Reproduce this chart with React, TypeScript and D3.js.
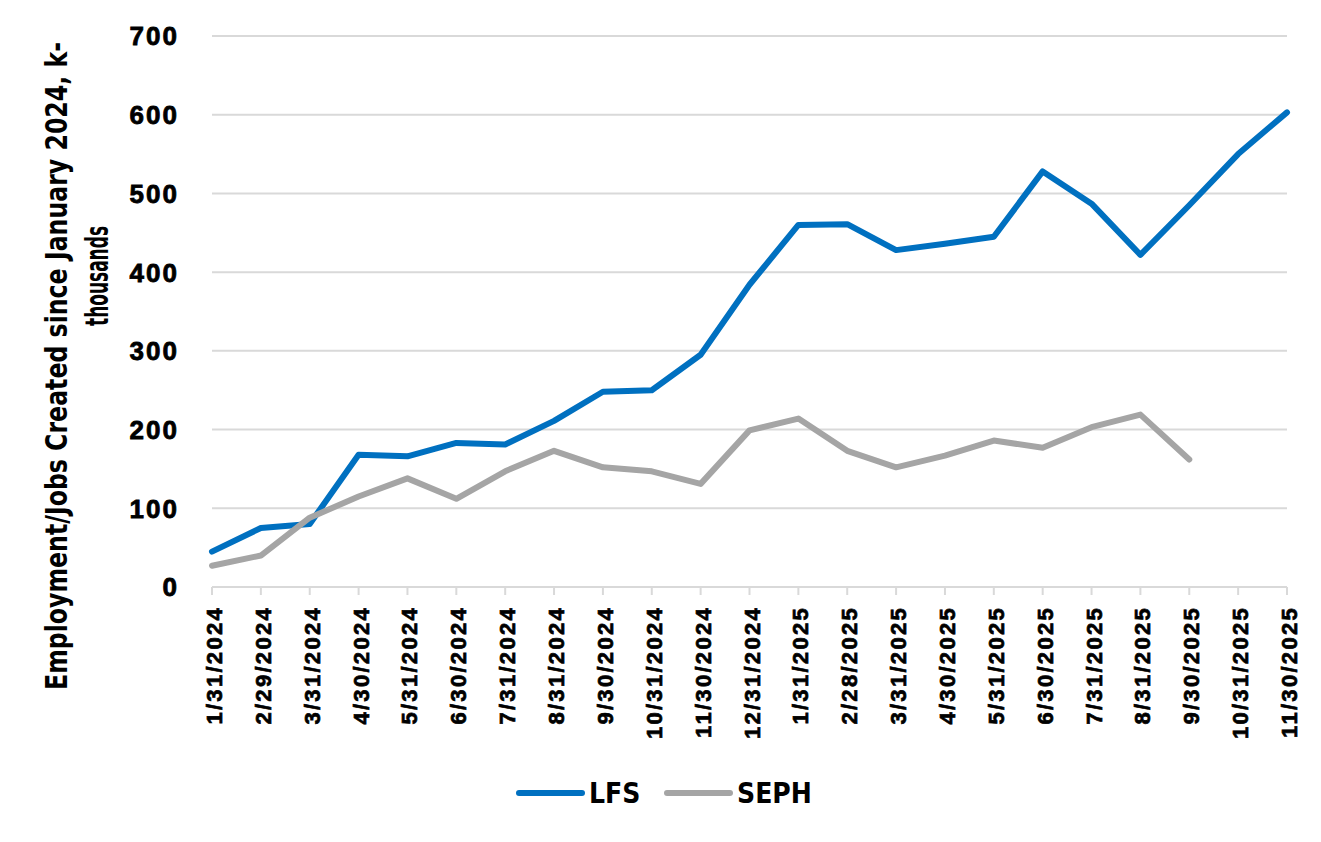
import React from "react";
import * as d3 from "d3";

const dates = [
  "1/31/2024", "2/29/2024", "3/31/2024", "4/30/2024", "5/31/2024", "6/30/2024",
  "7/31/2024", "8/31/2024", "9/30/2024", "10/31/2024", "11/30/2024", "12/31/2024",
  "1/31/2025", "2/28/2025", "3/31/2025", "4/30/2025", "5/31/2025", "6/30/2025",
  "7/31/2025", "8/31/2025", "9/30/2025", "10/31/2025", "11/30/2025",
];
const lfs: (number | null)[] = [
  45, 75, 80, 168, 166, 183, 181, 211, 248, 250, 295, 384,
  460, 461, 428, 436, 445, 528, 487, 422, 485, 550, 603,
];
const seph: (number | null)[] = [
  27, 40, 88, 115, 138, 112, 147, 173, 152, 147, 131, 199,
  214, 173, 152, 167, 186, 177, 203, 219, 162, null, null,
];
const yTicks = [0, 100, 200, 300, 400, 500, 600, 700];
const seriesNames = ["LFS", "SEPH"];
const seriesColors = ["#0070C0", "#A5A5A5"];

const W = 1321, H = 842;
const left = 212, right = 1287, top = 36, bottom = 587;

export default function App() {
  const x = d3.scalePoint<string>().domain(dates).range([left, right]);
  const y = d3.scaleLinear().domain([0, 700]).range([bottom, top]);
  const line = d3
    .line<number | null>()
    .defined((d) => d != null)
    .x((_, i) => x(dates[i]) as number)
    .y((d) => y(d as number));
  const series = [lfs, seph];
  const tickFont = "'Liberation Sans', Arial, sans-serif";
  const narrow = "'Liberation Sans Narrow', 'DejaVu Sans Condensed', 'Roboto', sans-serif";
  return (
    <div style={{ position: "fixed", left: 0, top: 0 }}>
      <svg width={W} height={H} style={{ display: "block", background: "#fff" }}>
        {yTicks.filter((t) => t > 0).map((t) => (
          <line key={t} x1={left} x2={right} y1={y(t)} y2={y(t)} stroke="#D9D9D9" strokeWidth={2} />
        ))}
        <line x1={left} x2={right} y1={y(0)} y2={y(0)} stroke="#D9D9D9" strokeWidth={2} />
        {dates.map((d) => (
          <line key={d} x1={x(d)} x2={x(d)} y1={y(0)} y2={y(0) + 8} stroke="#D9D9D9" strokeWidth={2} />
        ))}
        {yTicks.map((t) => (
          <text
            key={t}
            x={179}
            y={y(t)}
            dy="0.36em"
            textAnchor="end"
            fontFamily={tickFont}
            fontWeight={700}
            fontSize={26}
            letterSpacing={2}
            stroke="#000"
            strokeWidth={0.8}
            fill="#000"
          >
            {t}
          </text>
        ))}
        {dates.map((d) => (
          <text
            key={d}
            transform={`translate(${(x(d) as number) + 10},${y(0) + 19}) rotate(-90)`}
            textAnchor="end"
            fontFamily={tickFont}
            fontWeight={700}
            fontSize={22}
            letterSpacing={2.3}
            stroke="#000"
            strokeWidth={0.7}
            fill="#000"
          >
            {d}
          </text>
        ))}
        <text
          transform={`translate(67,366) rotate(-90)`}
          textAnchor="middle"
          fontFamily={narrow}
          fontWeight={700}
          fontSize={31}
          textLength={648}
          lengthAdjust="spacingAndGlyphs"
          fill="#000"
        >
          Employment/Jobs Created since January 2024, k-
        </text>
        <text
          transform={`translate(108,276) rotate(-90)`}
          textAnchor="middle"
          fontFamily={narrow}
          fontWeight={700}
          fontSize={32}
          textLength={100}
          lengthAdjust="spacingAndGlyphs"
          fill="#000"
        >
          thousands
        </text>
        {series.map((s, i) => (
          <path
            key={i}
            d={line(s) || ""}
            fill="none"
            stroke={seriesColors[i]}
            strokeWidth={6}
            strokeLinejoin="round"
            strokeLinecap="round"
          />
        ))}
        {seriesNames.map((n, i) => {
          const lx = [519, 667][i];
          return (
            <g key={n}>
              <line x1={lx} x2={lx + 63} y1={793} y2={793} stroke={seriesColors[i]} strokeWidth={6} strokeLinecap="round" />
              <text
                x={lx + 70}
                y={793}
                dy="0.36em"
                fontFamily={narrow}
                fontWeight={700}
                fontSize={28}
                fill="#000"
              >
                {n}
              </text>
            </g>
          );
        })}
      </svg>
    </div>
  );
}
